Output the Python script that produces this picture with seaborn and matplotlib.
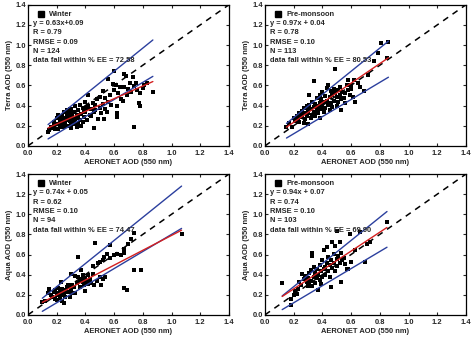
import numpy as np
import pandas as pd
import matplotlib
matplotlib.use("Agg")
import matplotlib.pyplot as plt
import seaborn as sns

# ---------------- data ----------------
tw_x = [0.14,0.15,0.16,0.17,0.18,0.18,0.19,0.20,0.20,0.21,0.21,0.22,0.22,0.23,0.23,0.24,0.24,0.25,0.25,0.25,
        0.26,0.26,0.27,0.27,0.27,0.28,0.28,0.29,0.29,0.29,0.30,0.30,0.30,0.30,0.31,0.31,0.32,0.32,0.33,0.33,
        0.33,0.34,0.34,0.35,0.35,0.35,0.35,0.36,0.36,0.37,0.37,0.38,0.38,0.39,0.39,0.40,0.40,0.41,0.41,0.42,
        0.42,0.43,0.44,0.44,0.45,0.46,0.46,0.47,0.47,0.48,0.49,0.50,0.50,0.51,0.52,0.52,0.53,0.54,0.54,0.55,
        0.56,0.56,0.57,0.58,0.59,0.60,0.60,0.61,0.62,0.62,0.62,0.63,0.64,0.65,0.66,0.67,0.67,0.68,0.69,0.70,
        0.71,0.72,0.73,0.74,0.74,0.75,0.76,0.77,0.78,0.78,0.80,0.81,0.83,0.87]
tw_y = [0.14,0.16,0.19,0.18,0.20,0.24,0.17,0.22,0.28,0.31,0.17,0.19,0.25,0.27,0.23,0.21,0.30,0.24,0.34,0.19,
        0.22,0.28,0.26,0.36,0.32,0.20,0.30,0.25,0.33,0.37,0.22,0.28,0.37,0.18,0.31,0.27,0.24,0.34,0.27,0.40,
        0.22,0.30,0.19,0.36,0.22,0.31,0.28,0.26,0.41,0.32,0.20,0.38,0.24,0.29,0.35,0.44,0.34,0.26,0.38,0.40,
        0.50,0.31,0.37,0.30,0.43,0.18,0.34,0.41,0.36,0.46,0.27,0.38,0.48,0.33,0.54,0.42,0.27,0.47,0.37,0.34,
        0.66,0.44,0.50,0.41,0.61,0.74,0.55,0.60,0.33,0.29,0.40,0.52,0.58,0.46,0.45,0.71,0.58,0.69,0.50,0.56,
        0.62,0.53,0.68,0.19,0.59,0.62,0.55,0.43,0.40,0.52,0.57,0.60,0.62,0.53]

tp_x = [0.15,0.17,0.19,0.20,0.21,0.22,0.23,0.24,0.24,0.25,0.26,0.26,0.27,0.27,0.28,0.28,0.29,0.29,0.30,0.30,
        0.30,0.31,0.31,0.32,0.32,0.33,0.33,0.34,0.34,0.34,0.35,0.35,0.36,0.36,0.37,0.37,0.38,0.38,0.38,0.39,
        0.39,0.40,0.40,0.41,0.41,0.42,0.42,0.43,0.43,0.44,0.44,0.45,0.45,0.46,0.46,0.47,0.47,0.48,0.48,0.49,
        0.49,0.50,0.50,0.51,0.51,0.52,0.52,0.53,0.53,0.54,0.55,0.56,0.56,0.57,0.58,0.58,0.59,0.60,0.60,0.61,
        0.62,0.63,0.65,0.66,0.69,0.72,0.76,0.79,0.81,0.85,0.86]
tp_y = [0.19,0.23,0.19,0.28,0.25,0.30,0.26,0.33,0.24,0.29,0.35,0.31,0.23,0.38,0.27,0.33,0.40,0.30,0.22,0.36,
        0.33,0.41,0.50,0.28,0.37,0.44,0.31,0.64,0.39,0.34,0.42,0.30,0.47,0.36,0.40,0.33,0.50,0.43,0.28,0.46,
        0.37,0.53,0.41,0.44,0.34,0.49,0.38,0.57,0.45,0.60,0.41,0.48,0.36,0.54,0.43,0.50,0.39,0.56,0.45,0.76,
        0.52,0.48,0.40,0.55,0.44,0.58,0.50,0.36,0.46,0.53,0.47,0.52,0.43,0.60,0.65,0.55,0.50,0.60,0.56,0.48,
        0.65,0.44,0.62,0.58,0.54,0.70,0.84,0.92,1.02,0.87,1.03]

aw_x = [0.10,0.12,0.14,0.15,0.16,0.17,0.18,0.19,0.19,0.20,0.20,0.21,0.21,0.22,0.22,0.23,0.23,0.24,0.24,0.25,
        0.25,0.26,0.26,0.27,0.28,0.28,0.29,0.30,0.30,0.31,0.31,0.32,0.33,0.33,0.34,0.35,0.35,0.36,0.36,0.37,
        0.37,0.38,0.38,0.39,0.40,0.40,0.41,0.42,0.42,0.43,0.44,0.45,0.45,0.46,0.47,0.48,0.49,0.50,0.50,0.51,
        0.52,0.52,0.53,0.54,0.55,0.57,0.57,0.60,0.62,0.65,0.67,0.67,0.67,0.69,0.70,0.72,0.74,0.74,0.79,1.07]
aw_y = [0.13,0.14,0.22,0.26,0.20,0.18,0.23,0.16,0.25,0.20,0.15,0.27,0.22,0.17,0.24,0.33,0.20,0.14,0.26,0.12,
        0.22,0.25,0.18,0.28,0.23,0.30,0.18,0.26,0.41,0.30,0.22,0.28,0.39,0.22,0.32,0.58,0.38,0.34,0.28,0.45,
        0.36,0.40,0.33,0.30,0.24,0.37,0.34,0.40,0.31,0.36,0.32,0.49,0.41,0.30,0.71,0.34,0.52,0.53,0.38,0.30,
        0.55,0.36,0.58,0.38,0.61,0.69,0.57,0.60,0.61,0.60,0.65,0.62,0.27,0.25,0.70,0.75,0.81,0.45,0.45,0.80]

ap_x = [0.12,0.18,0.18,0.20,0.21,0.22,0.23,0.24,0.25,0.26,0.27,0.28,0.29,0.30,0.30,0.31,0.31,0.32,0.32,0.33,
        0.33,0.33,0.34,0.34,0.35,0.35,0.36,0.36,0.37,0.37,0.38,0.38,0.39,0.39,0.40,0.40,0.41,0.41,0.42,0.42,
        0.43,0.43,0.44,0.44,0.45,0.45,0.46,0.46,0.47,0.47,0.48,0.48,0.49,0.49,0.50,0.50,0.50,0.51,0.52,0.52,
        0.53,0.53,0.54,0.55,0.56,0.57,0.58,0.59,0.60,0.63,0.66,0.70,0.71,0.73,0.85]
ap_y = [0.32,0.16,0.10,0.20,0.24,0.21,0.26,0.33,0.30,0.41,0.36,0.39,0.33,0.37,0.29,0.42,0.31,0.45,0.34,0.62,
        0.59,0.29,0.48,0.38,0.42,0.32,0.46,0.37,0.40,0.25,0.50,0.35,0.44,0.31,0.55,0.38,0.64,0.46,0.48,0.40,
        0.67,0.52,0.58,0.44,0.50,0.38,0.55,0.28,0.72,0.47,0.61,0.52,0.68,0.44,0.83,0.56,0.49,0.59,0.72,0.52,
        0.33,0.62,0.55,0.57,0.51,0.46,0.46,0.80,0.53,0.64,0.82,0.53,0.70,0.72,0.92]

panel_titles = ["Winter", "Pre-monsoon", "Winter", "Pre-monsoon"]
panel_ylabels = ["Terra AOD (550 nm)", "Terra AOD (550 nm)", "Aqua AOD (550 nm)", "Aqua AOD (550 nm)"]
fit_slope = [0.63, 0.97, 0.74, 0.94]
fit_icpt = [0.09, 0.04, 0.05, 0.07]
eq_text = ["y = 0.63x+0.09", "y = 0.97x + 0.04", "y = 0.74x + 0.05", "y = 0.94x + 0.07"]
r_vals = ["0.79", "0.78", "0.62", "0.74"]
rmse_vals = ["0.09", "0.10", "0.10", "0.10"]
n_vals = ["124", "113", "94", "103"]
ee_vals = ["72.58", "80.53", "74.47", "69.90"]
ticks = [0.0, 0.2, 0.4, 0.6, 0.8, 1.0, 1.2, 1.4]
xlabel = "AERONET AOD (550 nm)"

# ---------------- plotting ----------------
sns.set_theme(style="ticks")
plt.rcParams['font.family'] = ['Liberation Sans', 'DejaVu Sans']
plt.rcParams['font.weight'] = 'bold'

fig = plt.figure(figsize=(4.74, 3.40), dpi=100)
positions = [
    [0.059, 0.571, 0.424, 0.415],
    [0.559, 0.571, 0.424, 0.415],
    [0.059, 0.074, 0.424, 0.414],
    [0.559, 0.074, 0.424, 0.414],
]
datasets = [(tw_x, tw_y), (tp_x, tp_y), (aw_x, aw_y), (ap_x, ap_y)]
fs = 5.4

for i, (pos, (xs, ys)) in enumerate(zip(positions, datasets)):
    ax = fig.add_axes(pos)
    df = pd.DataFrame({"x": xs, "y": ys})
    # 1:1 line
    ref = pd.DataFrame({"x": [ticks[0], ticks[-1]], "y": [ticks[0], ticks[-1]]})
    ax.plot(ref.x, ref.y, color="black", lw=1.1, ls=(0, (4, 3.5)), zorder=1)
    sns.scatterplot(data=df, x="x", y="y", marker="s", color="black", s=10,
                    edgecolor="black", linewidth=0, ax=ax, zorder=2)
    xr = np.array([min(xs), max(xs)])
    # expected error envelope +-(0.05 + 0.15x)
    ax.plot(xr, xr + (0.05 + 0.15 * xr), color="#2b3f9e", lw=1.0, zorder=3)
    ax.plot(xr, xr - (0.05 + 0.15 * xr), color="#2b3f9e", lw=1.0, zorder=3)
    ax.plot(xr, fit_slope[i] * xr + fit_icpt[i], color="#d42020", lw=1.0, zorder=4)

    ax.set_xlim(0, 1.4)
    ax.set_ylim(0, 1.4)
    ax.set_xticks(ticks)
    ax.set_yticks(ticks)
    ax.set_xticklabels([f"{t:.1f}" for t in ticks], fontsize=fs, fontweight="bold")
    ax.set_yticklabels([f"{t:.1f}" for t in ticks], fontsize=fs, fontweight="bold")
    ax.tick_params(direction="in", length=2.5, width=0.8, top=True, right=True)
    ax.tick_params(axis="x", pad=3.0)
    ax.tick_params(axis="y", pad=1.5)
    for sp in ax.spines.values():
        sp.set_linewidth(0.9)
        sp.set_color("black")
    ax.set_xlabel(xlabel, fontsize=fs, fontweight="bold", labelpad=1.5)
    ax.set_ylabel(panel_ylabels[i], fontsize=fs, fontweight="bold", labelpad=1.5)

    # legend block
    ax.plot([0.063], [0.934], marker="s", color="black", ms=3.8, transform=ax.transAxes,
            clip_on=False, ls="none")
    ax.text(0.105, 0.934, panel_titles[i], transform=ax.transAxes, fontsize=fs,
            fontweight="bold", va="center", ha="left")
    lines = [eq_text[i], f"R = {r_vals[i]}", f"RMSE = {rmse_vals[i]}", f"N = {n_vals[i]}",
             f"data fall within % EE = {ee_vals[i]}"]
    for k, t in enumerate(lines):
        ax.text(0.026, 0.866 - k * 0.066, t, transform=ax.transAxes, fontsize=fs,
                fontweight="bold", va="center", ha="left")

fig.savefig("out.png", dpi=100)
